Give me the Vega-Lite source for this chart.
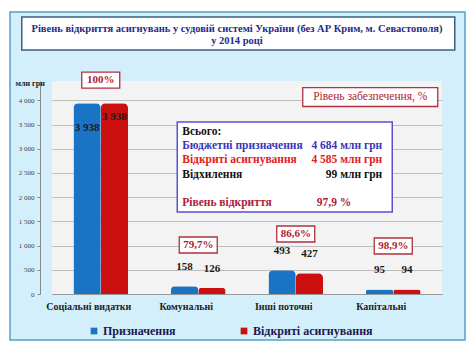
{
  "$schema": "https://vega.github.io/schema/vega-lite/v6.json",
  "autosize": {"type": "none"},
  "width": 390,
  "height": 213,
  "padding": {"left": 52, "top": 81, "right": 32, "bottom": 61},
  "background": "#d3effb",
  "title": {
    "text": ["Рівень відкриття асигнувань у судовій системі України (без АР Крим, м. Севастополя)", "у 2014 році"],
    "font": "Liberation Serif",
    "fontSize": 10.5,
    "fontWeight": "bold",
    "color": "#1f2a8a",
    "anchor": "middle",
    "dx": -10,
    "offset": -54,
    "lineHeight": 12
  },
  "datasets": {
    "bars": [
      {"cat": "Соціальні видатки", "series": "Призначення", "value": 3938},
      {"cat": "Соціальні видатки", "series": "Відкриті асигнування", "value": 3938},
      {"cat": "Комунальні", "series": "Призначення", "value": 158},
      {"cat": "Комунальні", "series": "Відкриті асигнування", "value": 126},
      {"cat": "Інші поточні", "series": "Призначення", "value": 493},
      {"cat": "Інші поточні", "series": "Відкриті асигнування", "value": 427},
      {"cat": "Капітальні", "series": "Призначення", "value": 95},
      {"cat": "Капітальні", "series": "Відкриті асигнування", "value": 94}
    ],
    "pct": [
      {"cat": "Соціальні видатки", "label": "100%", "level": 4420},
      {"cat": "Комунальні", "label": "79,7%", "level": 1012},
      {"cat": "Інші поточні", "label": "86,6%", "level": 1239},
      {"cat": "Капітальні", "label": "98,9%", "level": 992}
    ],
    "notes": [
      {"side": "left", "t": "Всього:", "tone": "k", "lv": 3346},
      {"side": "left", "t": "Бюджетні призначення", "tone": "b", "lv": 3057},
      {"side": "left", "t": "Відкриті асигнування", "tone": "r", "lv": 2768},
      {"side": "left", "t": "Відхилення", "tone": "k", "lv": 2458},
      {"side": "left", "t": "Рівень відкриття", "tone": "d", "lv": 1880},
      {"side": "right", "t": "4 684 млн грн", "tone": "b", "lv": 3057},
      {"side": "right", "t": "4 585 млн грн", "tone": "r", "lv": 2768},
      {"side": "right", "t": "99 млн грн", "tone": "k", "lv": 2458},
      {"side": "mid", "t": "97,9 %", "tone": "d", "lv": 1880}
    ]
  },
  "resolve": {"scale": {"color": "independent"}},
  "layer": [
    {
      "data": {"name": "bars"},
      "mark": {"type": "bar", "cornerRadiusTopLeft": 5, "cornerRadiusTopRight": 5},
      "encoding": {
        "x": {
          "field": "cat", "type": "nominal",
          "sort": ["Соціальні видатки", "Комунальні", "Інші поточні", "Капітальні"],
          "scale": {"paddingInner": 0.44, "paddingOuter": 0.22},
          "axis": {
            "title": null, "labelAngle": 0, "labelAlign": "center", "labelOffset": -12, "ticks": false,
            "domainColor": "#999999", "labelFont": "Liberation Serif", "labelFontSize": 10,
            "labelFontWeight": "bold", "labelColor": "#222222", "labelPadding": 7
          }
        },
        "xOffset": {"field": "series", "type": "nominal", "sort": ["Призначення", "Відкриті асигнування"]},
        "y": {
          "field": "value", "type": "quantitative",
          "scale": {"domain": [0, 4400], "nice": false},
          "axis": {
            "values": [0, 500, 1000, 1500, 2000, 2500, 3000, 3500, 4000],
            "tickCount": 9,
            "labelOverlap": false,
            "format": ",d", "offset": 12, "labelFontSize": 7, "labelColor": "#444444",
            "labelFont": "Liberation Serif", "gridColor": "#bdbdbd", "gridOpacity": 1, "domainColor": "#888888",
            "tickColor": "#888888", "tickSize": 3, "labelPadding": 3,
            "title": "млн грн", "titleAngle": 0, "titleAlign": "left", "titleBaseline": "middle",
            "titleX": -25, "titleY": 2, "titleFont": "Liberation Serif", "titleFontSize": 8,
            "titleFontWeight": "bold", "titleColor": "#222222"
          }
        },
        "color": {
          "field": "series", "type": "nominal",
          "sort": ["Призначення", "Відкриті асигнування"],
          "scale": {"domain": ["Призначення", "Відкриті асигнування"], "range": ["#1a74c6", "#cc1010"]},
          "legend": {
            "title": null, "orient": "none", "legendX": 36, "legendY": 244, "direction": "horizontal", "symbolType": "square",
            "symbolSize": 45, "labelFont": "Liberation Serif", "labelFontSize": 12,
            "labelFontWeight": "bold", "labelColor": "#1a1a50", "columnPadding": 62, "labelOffset": 3
          }
        }
      }
    },
    {
      "data": {"values": [{}]},
      "mark": {"type": "point", "shape": "M-0.96,-0.72H0.96V0.72H-0.96Z M-0.91,-0.656V0.656H0.91V-0.656Z", "size": 250000, "filled": true, "fill": "white", "stroke": "#5c9fc2", "strokeWidth": 1.5, "opacity": 1, "xOffset": 39.25},
      "encoding": {
        "x": {"datum": "Комунальні"},
        "y": {"datum": 2438}
      }
    },
    {
      "data": {"values": [{}]},
      "mark": {"type": "point", "shape": "M-1,-0.0762H1V0.0762H-1Z", "size": 187489, "filled": true, "fill": "white", "stroke": "#3d6080", "strokeWidth": 1.5, "opacity": 1, "xOffset": 40},
      "encoding": {
        "x": {"datum": "Комунальні"},
        "y": {"datum": 5381}
      }
    },
    {
      "data": {"name": "bars"},
      "transform": [{"filter": "datum.cat === 'Соціальні видатки' && datum.series === 'Призначення'"}],
      "mark": {"type": "text", "dy": 25, "font": "Liberation Serif", "fontSize": 11, "fontWeight": "bold", "color": "#1a1a1a"},
      "encoding": {
        "x": {"field": "cat", "type": "nominal", "sort": ["Соціальні видатки", "Комунальні", "Інші поточні", "Капітальні"]},
        "xOffset": {"field": "series", "type": "nominal", "sort": ["Призначення", "Відкриті асигнування"]},
        "y": {"field": "value", "type": "quantitative"},
        "text": {"field": "value", "type": "quantitative", "format": ",d"}
      }
    },
    {
      "data": {"name": "bars"},
      "transform": [{"filter": "datum.cat === 'Соціальні видатки' && datum.series === 'Відкриті асигнування'"}],
      "mark": {"type": "text", "dy": 14, "font": "Liberation Serif", "fontSize": 11, "fontWeight": "bold", "color": "#1a1a1a"},
      "encoding": {
        "x": {"field": "cat", "type": "nominal", "sort": ["Соціальні видатки", "Комунальні", "Інші поточні", "Капітальні"]},
        "xOffset": {"field": "series", "type": "nominal", "sort": ["Призначення", "Відкриті асигнування"]},
        "y": {"field": "value", "type": "quantitative"},
        "text": {"field": "value", "type": "quantitative", "format": ",d"}
      }
    },
    {
      "data": {"name": "bars"},
      "transform": [{"filter": "datum.cat !== 'Соціальні видатки'"}],
      "mark": {"type": "text", "dy": -19, "font": "Liberation Serif", "fontSize": 11, "fontWeight": "bold", "color": "#1a1a1a"},
      "encoding": {
        "x": {"field": "cat", "type": "nominal", "sort": ["Соціальні видатки", "Комунальні", "Інші поточні", "Капітальні"]},
        "xOffset": {"field": "series", "type": "nominal", "sort": ["Призначення", "Відкриті асигнування"]},
        "y": {"field": "value", "type": "quantitative"},
        "text": {"field": "value", "type": "quantitative", "format": ",d"}
      }
    },
    {
      "data": {"name": "pct"},
      "mark": {"type": "point", "shape": "M-1,-0.421H1V0.421H-1Z", "size": 1444, "filled": true, "fill": "white", "stroke": "#b03040", "strokeWidth": 1.3, "opacity": 1},
      "encoding": {
        "x": {"field": "cat", "type": "nominal", "sort": ["Соціальні видатки", "Комунальні", "Інші поточні", "Капітальні"]},
        "y": {"field": "level", "type": "quantitative"}
      }
    },
    {
      "data": {"name": "pct"},
      "mark": {"type": "text", "font": "Liberation Serif", "fontSize": 11, "fontWeight": "bold", "color": "#b02030"},
      "encoding": {
        "x": {"field": "cat", "type": "nominal", "sort": ["Соціальні видатки", "Комунальні", "Інші поточні", "Капітальні"]},
        "y": {"field": "level", "type": "quantitative"},
        "text": {"field": "label"}
      }
    },
    {
      "data": {"values": [{}]},
      "mark": {"type": "point", "shape": "M-1,-0.4186H1V0.4186H-1Z", "size": 46225, "filled": true, "fill": "white", "stroke": "#5a50d0", "strokeWidth": 1.5, "opacity": 1, "xOffset": -11},
      "encoding": {
        "x": {"datum": "Інші поточні"},
        "y": {"datum": 2623}
      }
    },
    {
      "data": {"name": "notes"},
      "transform": [{"filter": "datum.side === 'left'"}],
      "mark": {"type": "text", "align": "left", "dx": -16, "font": "Liberation Serif", "fontSize": 11.5, "fontWeight": "bold"},
      "encoding": {
        "x": {"datum": "Комунальні"},
        "y": {"field": "lv", "type": "quantitative"},
        "text": {"field": "t"},
        "color": {"field": "tone", "type": "nominal", "scale": {"domain": ["k", "b", "r", "d"], "range": ["#111111", "#3a36b8", "#e02020", "#b0203a"]}, "legend": null}
      }
    },
    {
      "data": {"name": "notes"},
      "transform": [{"filter": "datum.side === 'right'"}],
      "mark": {"type": "text", "align": "right", "dx": -11, "font": "Liberation Serif", "fontSize": 11.5, "fontWeight": "bold"},
      "encoding": {
        "x": {"datum": "Капітальні"},
        "y": {"field": "lv", "type": "quantitative"},
        "text": {"field": "t"},
        "color": {"field": "tone", "type": "nominal", "scale": {"domain": ["k", "b", "r", "d"], "range": ["#111111", "#3a36b8", "#e02020", "#b0203a"]}, "legend": null}
      }
    },
    {
      "data": {"name": "notes"},
      "transform": [{"filter": "datum.side === 'mid'"}],
      "mark": {"type": "text", "align": "left", "dx": 21, "font": "Liberation Serif", "fontSize": 11.5, "fontWeight": "bold"},
      "encoding": {
        "x": {"datum": "Інші поточні"},
        "y": {"field": "lv", "type": "quantitative"},
        "text": {"field": "t"},
        "color": {"field": "tone", "type": "nominal", "scale": {"domain": ["k", "b", "r", "d"], "range": ["#111111", "#3a36b8", "#e02020", "#b0203a"]}, "legend": null}
      }
    },
    {
      "data": {"values": [{"t": "Рівень забезпечення, %"}]},
      "mark": {"type": "point", "shape": "M-1,-0.1407H1V0.1407H-1Z", "size": 18225, "filled": true, "fill": "white", "stroke": "#b03040", "strokeWidth": 1.3, "opacity": 1, "xOffset": -23},
      "encoding": {
        "x": {"datum": "Капітальні"},
        "y": {"datum": 4069}
      }
    },
    {
      "data": {"values": [{"t": "Рівень забезпечення, %"}]},
      "mark": {"type": "text", "dx": -23, "font": "Liberation Serif", "fontSize": 11.5, "color": "#b02030"},
      "encoding": {
        "x": {"datum": "Капітальні"},
        "y": {"datum": 4069},
        "text": {"field": "t"}
      }
    }
  ],
  "config": {
    "view": {"fill": "#f3f3f3", "stroke": null},
    "locale": {"number": {"decimal": ",", "thousands": " ", "grouping": [3], "currency": ["", ""]}}
  }
}
